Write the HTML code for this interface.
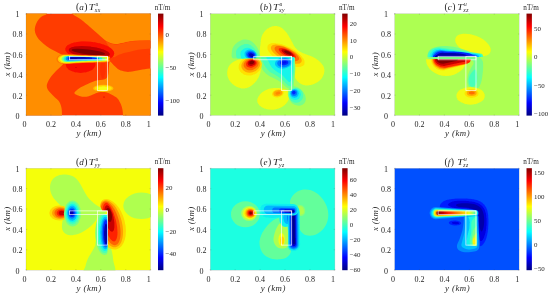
<!DOCTYPE html><html><head><meta charset="utf-8"><title>Tensor components</title>
<style>html,body{margin:0;padding:0;background:#fff;}body{width:550px;height:296px;overflow:hidden;}svg{display:block;font-family:"Liberation Serif","DejaVu Serif",serif;}</style></head><body>
<svg width="550" height="296" viewBox="0 0 550 296">
<defs>
<filter id="b2" x="-20%" y="-20%" width="140%" height="140%"><feGaussianBlur stdDeviation="0.25"/></filter>
<filter id="b3" x="-20%" y="-20%" width="140%" height="140%"><feGaussianBlur stdDeviation="0.35"/></filter>
<filter id="b4" x="-20%" y="-20%" width="140%" height="140%"><feGaussianBlur stdDeviation="0.45"/></filter>
<filter id="b6" x="-20%" y="-20%" width="140%" height="140%"><feGaussianBlur stdDeviation="0.7"/></filter>
<linearGradient id="jet" x1="0" y1="1" x2="0" y2="0"><stop offset="0" stop-color="rgb(0,0,128)"/><stop offset="0.125" stop-color="rgb(0,0,255)"/><stop offset="0.375" stop-color="rgb(0,255,255)"/><stop offset="0.625" stop-color="rgb(255,255,0)"/><stop offset="0.875" stop-color="rgb(255,0,0)"/><stop offset="1" stop-color="rgb(128,0,0)"/></linearGradient>
<clipPath id="cp_a"><rect x="26.00" y="13.60" width="124.70" height="102.00"/></clipPath>
<clipPath id="cp_b"><rect x="210.20" y="13.60" width="124.70" height="102.00"/></clipPath>
<clipPath id="cp_c"><rect x="394.50" y="13.60" width="124.70" height="102.00"/></clipPath>
<clipPath id="cp_d"><rect x="26.00" y="168.20" width="124.70" height="102.00"/></clipPath>
<clipPath id="cp_e"><rect x="210.20" y="168.20" width="124.70" height="102.00"/></clipPath>
<clipPath id="cp_f"><rect x="394.50" y="168.20" width="124.70" height="102.00"/></clipPath>

</defs>
<rect width="550" height="296" fill="#fff"/>
<g clip-path="url(#cp_a)">
<rect x="26.00" y="13.60" width="124.70" height="102.00" fill="rgb(255,60,0)"/>
<path d="M72.00,13.60 C68.50,10.35 43.67,3.93 60.00,0.00 C76.33,-3.93 150.83,-16.75 170.00,-10.00 C189.17,-3.25 178.23,32.08 175.00,40.50 C171.77,48.92 156.43,40.48 150.60,40.50 C144.77,40.52 143.37,40.48 140.00,40.60 C136.63,40.72 133.40,40.80 130.40,41.20 C127.40,41.60 124.53,42.53 122.00,43.00 C119.47,43.47 117.70,44.25 115.20,44.00 C112.70,43.75 109.87,43.17 107.00,41.50 C104.13,39.83 100.83,36.42 98.00,34.00 C95.17,31.58 92.83,29.42 90.00,27.00 C87.17,24.58 84.00,21.73 81.00,19.50 C78.00,17.27 75.50,16.85 72.00,13.60Z" fill="rgb(255,142,0)" />
<path d="M47.00,13.60 C46.00,15.60 42.75,15.43 41.00,17.00 C39.25,18.57 37.53,20.75 36.50,23.00 C35.47,25.25 34.63,28.08 34.80,30.50 C34.97,32.92 36.05,35.30 37.50,37.50 C38.95,39.70 41.42,41.87 43.50,43.70 C45.58,45.53 47.65,47.03 50.00,48.50 C52.35,49.97 55.43,51.33 57.60,52.50 C59.77,53.67 61.60,54.42 63.00,55.50 C64.40,56.58 65.88,57.67 66.00,59.00 C66.12,60.33 65.37,61.50 63.70,63.50 C62.03,65.50 58.18,68.70 56.00,71.00 C53.82,73.30 52.10,75.08 50.60,77.30 C49.10,79.52 47.52,82.35 47.00,84.30 C46.48,86.25 46.90,87.55 47.50,89.00 C48.10,90.45 49.35,91.58 50.60,93.00 C51.85,94.42 53.55,96.03 55.00,97.50 C56.45,98.97 58.22,100.05 59.30,101.80 C60.38,103.55 61.05,105.70 61.50,108.00 C61.95,110.30 61.92,112.77 62.00,115.60 C62.08,118.43 70.67,122.60 62.00,125.00 C53.33,127.40 19.50,140.83 10.00,130.00 C0.50,119.17 5.00,81.67 5.00,60.00 C5.00,38.33 3.00,9.17 10.00,0.00 C17.00,-9.17 40.83,2.73 47.00,5.00 C53.17,7.27 48.00,11.60 47.00,13.60Z" fill="rgb(255,142,0)" />
<path d="M74.40,92.70 C74.82,91.65 77.17,89.78 79.00,88.50 C80.83,87.22 82.65,86.28 85.40,85.00 C88.15,83.72 92.27,81.77 95.50,80.80 C98.73,79.83 102.68,80.17 104.80,79.20 C106.92,78.23 107.50,77.20 108.20,75.00 C108.90,72.80 108.70,68.25 109.00,66.00 C109.30,63.75 109.17,61.58 110.00,61.50 C110.83,61.42 112.47,64.12 114.00,65.50 C115.53,66.88 117.37,68.80 119.20,69.80 C121.03,70.80 123.20,71.17 125.00,71.50 C126.80,71.83 127.50,72.05 130.00,71.80 C132.50,71.55 136.57,70.55 140.00,70.00 C143.43,69.45 145.60,68.83 150.60,68.50 C155.60,68.17 165.93,57.75 170.00,68.00 C174.07,78.25 182.75,119.67 175.00,130.00 C167.25,140.33 132.17,132.40 123.50,130.00 C114.83,127.60 123.17,118.93 123.00,115.60 C122.83,112.27 122.83,111.85 122.50,110.00 C122.17,108.15 121.83,106.42 121.00,104.50 C120.17,102.58 119.03,100.12 117.50,98.50 C115.97,96.88 113.72,95.83 111.80,94.80 C109.88,93.77 108.15,92.72 106.00,92.30 C103.85,91.88 101.07,91.93 98.90,92.30 C96.73,92.67 94.68,93.85 93.00,94.50 C91.32,95.15 90.30,95.82 88.80,96.20 C87.30,96.58 85.42,96.80 84.00,96.80 C82.58,96.80 81.55,96.53 80.30,96.20 C79.05,95.87 77.48,95.38 76.50,94.80 C75.52,94.22 73.98,93.75 74.40,92.70Z" fill="rgb(255,142,0)" />
<path d="M106.00,41.50 C106.17,40.87 108.47,42.72 110.00,43.20 C111.53,43.68 113.20,44.37 115.20,44.40 C117.20,44.43 119.47,43.87 122.00,43.40 C124.53,42.93 127.40,42.00 130.40,41.60 C133.40,41.20 136.23,41.12 140.00,41.00 C143.77,40.88 150.83,39.77 153.00,40.90 C155.17,42.03 155.17,46.38 153.00,47.80 C150.83,49.22 143.35,48.88 140.00,49.40 C136.65,49.92 135.40,50.33 132.90,50.90 C130.40,51.47 127.48,52.08 125.00,52.80 C122.52,53.52 119.87,54.47 118.00,55.20 C116.13,55.93 114.88,57.57 113.80,57.20 C112.72,56.83 112.30,54.70 111.50,53.00 C110.70,51.30 109.92,48.92 109.00,47.00 C108.08,45.08 105.83,42.13 106.00,41.50Z" fill="rgb(255,86,0)" />
<g filter="url(#b3)">
<ellipse cx="103.30" cy="88.30" rx="10.20" ry="3.60" fill="rgb(255,190,0)" />
<ellipse cx="103.30" cy="88.30" rx="8.60" ry="2.80" fill="rgb(255,225,0)" />
<ellipse cx="103.30" cy="88.40" rx="5.20" ry="1.80" fill="rgb(245,255,20)" />
</g>
<g filter="url(#b3)">
<ellipse cx="89.80" cy="51.30" rx="24.60" ry="9.60" fill="rgb(250,10,0)" transform="rotate(6.0 89.80 51.30)" />
<ellipse cx="89.20" cy="52.00" rx="20.60" ry="5.60" fill="rgb(190,0,0)" transform="rotate(6.5 89.20 52.00)" />
<ellipse cx="88.30" cy="51.90" rx="16.80" ry="2.50" fill="rgb(128,0,0)" transform="rotate(6.9 88.30 51.90)" />
<ellipse cx="80.60" cy="64.50" rx="14.80" ry="8.50" fill="rgb(250,16,0)" />
<ellipse cx="102.80" cy="69.00" rx="2.80" ry="9.50" fill="rgb(255,46,0)" />
</g>
<g filter="url(#b4)">
<path d="M56.40,59.20 C56.40,57.89 57.71,56.10 59.34,55.28 C60.97,54.46 62.28,54.33 66.20,54.30 C70.12,54.27 75.92,54.77 82.85,55.10 C89.78,55.43 103.39,55.62 107.80,56.30 C112.21,56.98 109.30,58.23 109.30,59.20 C109.30,60.17 112.21,61.45 107.80,62.10 C103.39,62.75 89.78,62.77 82.85,63.10 C75.92,63.43 70.12,64.10 66.20,64.10 C62.28,64.10 60.97,63.94 59.34,63.12 C57.71,62.30 56.40,60.51 56.40,59.20Z" fill="rgb(255,120,0)" />
<path d="M57.80,59.20 C57.80,58.08 58.92,56.54 60.32,55.84 C61.72,55.14 62.40,55.02 66.20,55.00 C70.01,54.98 76.35,55.40 83.15,55.70 C89.95,56.00 102.78,56.22 107.00,56.80 C111.22,57.38 108.50,58.40 108.50,59.20 C108.50,60.00 111.22,61.05 107.00,61.60 C102.78,62.15 89.95,62.20 83.15,62.50 C76.35,62.80 70.01,63.39 66.20,63.40 C62.40,63.41 61.72,63.26 60.32,62.56 C58.92,61.86 57.80,60.32 57.80,59.20Z" fill="rgb(255,200,0)" />
<path d="M59.50,59.10 C59.50,58.14 60.46,56.82 61.66,56.22 C62.86,55.62 63.06,55.52 66.70,55.50 C70.34,55.48 76.95,55.83 83.50,56.10 C90.05,56.37 102.00,56.60 106.00,57.10 C110.00,57.60 107.50,58.43 107.50,59.10 C107.50,59.77 110.00,60.63 106.00,61.10 C102.00,61.57 90.05,61.63 83.50,61.90 C76.95,62.17 70.34,62.69 66.70,62.70 C63.06,62.71 62.86,62.58 61.66,61.98 C60.46,61.38 59.50,60.06 59.50,59.10Z" fill="rgb(235,255,20)" />
<path d="M61.60,59.00 C61.60,58.17 62.43,57.04 63.46,56.52 C64.49,56.00 64.49,55.91 67.80,55.90 C71.11,55.89 77.35,56.20 83.30,56.45 C89.25,56.70 99.88,56.97 103.50,57.40 C107.12,57.83 105.00,58.47 105.00,59.00 C105.00,59.53 107.12,60.21 103.50,60.60 C99.88,60.99 89.25,61.10 83.30,61.35 C77.35,61.60 71.11,62.08 67.80,62.10 C64.49,62.12 64.49,62.00 63.46,61.48 C62.43,60.96 61.60,59.83 61.60,59.00Z" fill="rgb(130,255,125)" />
<path d="M63.60,58.90 C63.60,58.21 64.29,57.25 65.16,56.82 C66.03,56.39 65.86,56.31 68.80,56.30 C71.74,56.29 77.52,56.53 82.80,56.75 C88.08,56.97 97.30,57.24 100.50,57.60 C103.70,57.96 102.00,58.47 102.00,58.90 C102.00,59.33 103.70,59.87 100.50,60.20 C97.30,60.52 88.08,60.63 82.80,60.85 C77.52,61.07 71.74,61.48 68.80,61.50 C65.86,61.52 66.03,61.41 65.16,60.98 C64.29,60.55 63.60,59.59 63.60,58.90Z" fill="rgb(30,240,225)" />
<path d="M65.60,58.70 C65.60,58.14 66.16,57.37 66.86,57.02 C67.56,56.67 67.23,56.61 69.80,56.60 C72.37,56.59 77.68,56.77 82.30,56.95 C86.92,57.13 94.72,57.41 97.50,57.70 C100.28,57.99 99.00,58.37 99.00,58.70 C99.00,59.03 100.28,59.44 97.50,59.70 C94.72,59.96 86.92,60.07 82.30,60.25 C77.68,60.43 72.37,60.78 69.80,60.80 C67.23,60.82 67.56,60.73 66.86,60.38 C66.16,60.03 65.60,59.26 65.60,58.70Z" fill="rgb(0,150,255)" />
<path d="M67.60,58.40 C67.60,58.00 68.00,57.45 68.50,57.20 C69.00,56.95 68.34,56.92 70.60,56.90 C72.86,56.88 77.98,56.97 82.05,57.10 C86.12,57.23 92.59,57.48 95.00,57.70 C97.41,57.92 96.50,58.17 96.50,58.40 C96.50,58.63 97.41,58.92 95.00,59.10 C92.59,59.28 86.12,59.37 82.05,59.50 C77.98,59.63 72.86,59.88 70.60,59.90 C68.34,59.92 69.00,59.85 68.50,59.60 C68.00,59.35 67.60,58.80 67.60,58.40Z" fill="rgb(0,50,255)" />
<path d="M70.00,58.20 C70.00,57.96 70.24,57.63 70.54,57.48 C70.84,57.33 70.06,57.32 71.80,57.30 C73.54,57.28 77.88,57.27 81.00,57.35 C84.12,57.43 88.67,57.66 90.50,57.80 C92.33,57.94 92.00,58.07 92.00,58.20 C92.00,58.33 92.33,58.49 90.50,58.60 C88.67,58.71 84.12,58.77 81.00,58.85 C77.88,58.93 73.54,59.09 71.80,59.10 C70.06,59.11 70.84,59.07 70.54,58.92 C70.24,58.77 70.00,58.44 70.00,58.20Z" fill="rgb(0,0,170)" />
</g>
<ellipse cx="76.00" cy="67.40" rx="0.70" ry="0.50" fill="rgb(200,0,0)" />
<ellipse cx="104.00" cy="97.00" rx="0.80" ry="0.60" fill="rgb(225,0,0)" />
<rect x="69.60" y="56.30" width="37.90" height="3.50" stroke="#fff" stroke-width="0.7" fill="none" stroke-opacity="0.9"/><rect x="97.40" y="56.30" width="10.10" height="34.20" stroke="#fff" stroke-width="0.7" fill="none" stroke-opacity="0.9"/>
</g>
<rect x="26.00" y="13.60" width="124.70" height="102.00" fill="none" stroke="#555" stroke-opacity="0.35" stroke-width="0.4"/>
<path d="M26.00,115.60 v-1.2 M26.00,13.60 v1.2 M26.00,115.60 h1.2 M150.70,115.60 h-1.2 M50.94,115.60 v-1.2 M50.94,13.60 v1.2 M26.00,95.20 h1.2 M150.70,95.20 h-1.2 M75.88,115.60 v-1.2 M75.88,13.60 v1.2 M26.00,74.80 h1.2 M150.70,74.80 h-1.2 M100.82,115.60 v-1.2 M100.82,13.60 v1.2 M26.00,54.40 h1.2 M150.70,54.40 h-1.2 M125.76,115.60 v-1.2 M125.76,13.60 v1.2 M26.00,34.00 h1.2 M150.70,34.00 h-1.2 M150.70,115.60 v-1.2 M150.70,13.60 v1.2 M26.00,13.60 h1.2 M150.70,13.60 h-1.2" stroke="#444" stroke-opacity="0.45" stroke-width="0.4" fill="none"/>
<rect x="158.00" y="13.60" width="5.4" height="102.00" fill="url(#jet)"/>
<g fill="#262626">
<text x="162.60" y="9.50" font-size="7.20" text-anchor="middle"  >nT/m</text>
<text x="165.50" y="37.00" font-size="6.90" text-anchor="start"  >0</text>
<text x="165.50" y="69.80" font-size="6.90" text-anchor="start"  >−50</text>
<text x="165.50" y="102.60" font-size="6.90" text-anchor="start"  >−100</text>
<text x="24.40" y="126.90" font-size="8.00" text-anchor="middle"  >0</text>
<text x="50.94" y="126.90" font-size="8.00" text-anchor="middle"  >0.2</text>
<text x="75.88" y="126.90" font-size="8.00" text-anchor="middle"  >0.4</text>
<text x="100.82" y="126.90" font-size="8.00" text-anchor="middle"  >0.6</text>
<text x="125.76" y="126.90" font-size="8.00" text-anchor="middle"  >0.8</text>
<text x="148.70" y="126.90" font-size="8.00" text-anchor="middle"  >1</text>
<text x="17.40" y="118.90" font-size="8.00" text-anchor="middle"  >0</text>
<text x="17.40" y="98.50" font-size="8.00" text-anchor="middle"  >0.2</text>
<text x="17.40" y="78.10" font-size="8.00" text-anchor="middle"  >0.4</text>
<text x="17.40" y="57.70" font-size="8.00" text-anchor="middle"  >0.6</text>
<text x="17.40" y="37.30" font-size="8.00" text-anchor="middle"  >0.8</text>
<text x="17.40" y="16.90" font-size="8.00" text-anchor="middle"  >1</text>
<text x="89.05" y="136.40" font-size="8.80" text-anchor="middle" font-style="italic" letter-spacing="0.5">y (km)</text>
<text transform="translate(9.50 64.20) rotate(-90)" font-size="8.8" font-style="italic" text-anchor="middle" letter-spacing="0.4">x (km)</text>
<text x="75.90" y="10.35" font-size="9.7">(<tspan font-size="9.1" font-style="italic" dx="0.2">a</tspan><tspan dx="0.3">)</tspan></text>
<text transform="translate(88.80 10.35) scale(1.16 1)" font-size="9.2" font-style="italic">T</text>
<text x="95.40" y="6.45" font-size="5.4" font-style="italic">u</text>
<text x="94.70" y="12.45" font-size="5.7" font-style="italic" letter-spacing="0.5">xx</text>
</g>
<g clip-path="url(#cp_b)">
<rect x="210.20" y="13.60" width="124.70" height="102.00" fill="rgb(173,255,82)"/>
<defs><clipPath id="b_out"><path d="M205,5 H340 V120 H292.0 V56.4 H205 Z"/></clipPath><clipPath id="b_top"><rect x="205" y="5" width="140" height="53.6"/></clipPath><clipPath id="b_botL"><rect x="205" y="58.8" width="140" height="70"/></clipPath><clipPath id="b_bot"><rect x="205" y="57.3" width="140" height="70"/></clipPath></defs>
<g filter="url(#b3)">
<g clip-path="url(#b_botL)">
<path d="M227.20,72.30 C227.37,70.38 227.87,67.80 229.00,66.00 C230.13,64.20 232.00,62.67 234.00,61.50 C236.00,60.33 238.33,59.58 241.00,59.00 C243.67,58.42 247.17,58.00 250.00,58.00 C252.83,58.00 256.17,58.00 258.00,59.00 C259.83,60.00 260.58,61.83 261.00,64.00 C261.42,66.17 261.17,69.33 260.50,72.00 C259.83,74.67 258.58,77.67 257.00,80.00 C255.42,82.33 253.17,84.58 251.00,86.00 C248.83,87.42 246.33,88.33 244.00,88.50 C241.67,88.67 239.17,88.00 237.00,87.00 C234.83,86.00 232.50,84.08 231.00,82.50 C229.50,80.92 228.63,79.20 228.00,77.50 C227.37,75.80 227.03,74.22 227.20,72.30Z" fill="rgb(240,252,20)" />
</g>
<g clip-path="url(#b_top)">
<path d="M231.80,52.00 C231.97,50.08 232.47,48.17 233.50,46.50 C234.53,44.83 236.25,43.17 238.00,42.00 C239.75,40.83 242.00,39.75 244.00,39.50 C246.00,39.25 248.17,39.67 250.00,40.50 C251.83,41.33 253.58,42.92 255.00,44.50 C256.42,46.08 257.67,47.92 258.50,50.00 C259.33,52.08 260.58,55.17 260.00,57.00 C259.42,58.83 258.33,60.33 255.00,61.00 C251.67,61.67 243.75,61.50 240.00,61.00 C236.25,60.50 233.87,59.50 232.50,58.00 C231.13,56.50 231.63,53.92 231.80,52.00Z" fill="rgb(120,255,135)" />
<path d="M236.00,52.00 C236.08,50.08 237.25,48.75 238.50,47.50 C239.75,46.25 241.75,45.00 243.50,44.50 C245.25,44.00 247.25,43.92 249.00,44.50 C250.75,45.08 252.58,46.58 254.00,48.00 C255.42,49.42 256.83,51.33 257.50,53.00 C258.17,54.67 259.58,56.67 258.00,58.00 C256.42,59.33 251.33,60.83 248.00,61.00 C244.67,61.17 240.00,60.50 238.00,59.00 C236.00,57.50 235.92,53.92 236.00,52.00Z" fill="rgb(70,255,185)" />
<path d="M240.50,53.00 C240.67,51.42 241.83,50.37 243.00,49.50 C244.17,48.63 246.00,47.80 247.50,47.80 C249.00,47.80 250.67,48.55 252.00,49.50 C253.33,50.45 254.75,52.08 255.50,53.50 C256.25,54.92 257.75,56.75 256.50,58.00 C255.25,59.25 250.42,60.83 248.00,61.00 C245.58,61.17 243.25,60.33 242.00,59.00 C240.75,57.67 240.33,54.58 240.50,53.00Z" fill="rgb(20,245,235)" />
<ellipse cx="250.60" cy="54.60" rx="6.20" ry="4.90" fill="rgb(0,190,255)" transform="rotate(15.0 250.60 54.60)" />
<ellipse cx="250.90" cy="54.80" rx="5.00" ry="3.90" fill="rgb(0,120,255)" transform="rotate(15.0 250.90 54.80)" />
<ellipse cx="251.20" cy="55.00" rx="3.80" ry="2.90" fill="rgb(0,40,255)" transform="rotate(15.0 251.20 55.00)" />
<ellipse cx="251.50" cy="55.20" rx="2.50" ry="1.80" fill="rgb(0,0,180)" transform="rotate(15.0 251.50 55.20)" />
</g>
<g clip-path="url(#b_out)">
<path d="M260.50,44.00 C260.75,41.83 260.75,39.17 261.50,37.00 C262.25,34.83 263.58,32.62 265.00,31.00 C266.42,29.38 268.25,28.13 270.00,27.30 C271.75,26.47 273.67,25.97 275.50,26.00 C277.33,26.03 279.25,26.50 281.00,27.50 C282.75,28.50 284.42,30.08 286.00,32.00 C287.58,33.92 289.08,36.60 290.50,39.00 C291.92,41.40 293.08,44.40 294.50,46.40 C295.92,48.40 297.42,49.82 299.00,51.00 C300.58,52.18 301.83,52.58 304.00,53.50 C306.17,54.42 309.50,55.25 312.00,56.50 C314.50,57.75 317.08,59.33 319.00,61.00 C320.92,62.67 322.62,64.67 323.50,66.50 C324.38,68.33 324.55,70.08 324.30,72.00 C324.05,73.92 323.22,76.25 322.00,78.00 C320.78,79.75 318.83,81.33 317.00,82.50 C315.17,83.67 313.00,84.53 311.00,85.00 C309.00,85.47 306.92,85.63 305.00,85.30 C303.08,84.97 301.08,84.13 299.50,83.00 C297.92,81.87 296.50,80.33 295.50,78.50 C294.50,76.67 294.00,74.42 293.50,72.00 C293.00,69.58 292.92,66.50 292.50,64.00 C292.08,61.50 293.08,58.17 291.00,57.00 C288.92,55.83 284.83,57.00 280.00,57.00 C275.17,57.00 265.33,58.17 262.00,57.00 C258.67,55.83 260.25,52.17 260.00,50.00 C259.75,47.83 260.25,46.17 260.50,44.00Z" fill="rgb(240,252,20)" />
<ellipse cx="286.00" cy="55.00" rx="20.50" ry="8.40" fill="rgb(255,225,0)" transform="rotate(27.0 286.00 55.00)" />
<ellipse cx="286.30" cy="54.20" rx="17.00" ry="6.50" fill="rgb(255,170,0)" transform="rotate(27.0 286.30 54.20)" />
<ellipse cx="286.80" cy="53.60" rx="13.50" ry="5.00" fill="rgb(255,110,0)" transform="rotate(27.0 286.80 53.60)" />
<ellipse cx="287.30" cy="53.20" rx="9.60" ry="3.40" fill="rgb(255,40,0)" transform="rotate(27.0 287.30 53.20)" />
<ellipse cx="287.60" cy="52.90" rx="6.80" ry="2.30" fill="rgb(200,0,0)" transform="rotate(27.0 287.60 52.90)" />
<ellipse cx="287.80" cy="52.70" rx="4.00" ry="1.30" fill="rgb(130,0,0)" transform="rotate(27.0 287.80 52.70)" />
</g>
<g clip-path="url(#b_bot)">
<path d="M257.50,56.00 C260.33,55.17 269.08,55.00 275.00,55.00 C280.92,55.00 289.67,54.67 293.00,56.00 C296.33,57.33 294.62,60.67 295.00,63.00 C295.38,65.33 295.37,67.67 295.30,70.00 C295.23,72.33 294.85,74.67 294.60,77.00 C294.35,79.33 293.98,82.17 293.80,84.00 C293.62,85.83 294.30,87.25 293.50,88.00 C292.70,88.75 290.33,88.75 289.00,88.50 C287.67,88.25 286.83,87.50 285.50,86.50 C284.17,85.50 282.75,83.78 281.00,82.50 C279.25,81.22 277.08,79.95 275.00,78.80 C272.92,77.65 270.42,76.90 268.50,75.60 C266.58,74.30 264.87,72.77 263.50,71.00 C262.13,69.23 261.22,66.83 260.30,65.00 C259.38,63.17 258.47,61.50 258.00,60.00 C257.53,58.50 254.67,56.83 257.50,56.00Z" fill="rgb(120,255,135)" />
<path d="M262.00,56.00 C264.33,54.83 271.92,55.00 277.00,55.00 C282.08,55.00 289.67,54.67 292.50,56.00 C295.33,57.33 293.75,60.50 294.00,63.00 C294.25,65.50 294.17,68.33 294.00,71.00 C293.83,73.67 293.33,76.58 293.00,79.00 C292.67,81.42 292.67,84.33 292.00,85.50 C291.33,86.67 290.00,86.33 289.00,86.00 C288.00,85.67 287.25,84.67 286.00,83.50 C284.75,82.33 283.25,80.42 281.50,79.00 C279.75,77.58 277.50,76.25 275.50,75.00 C273.50,73.75 271.17,72.83 269.50,71.50 C267.83,70.17 266.58,68.58 265.50,67.00 C264.42,65.42 263.58,63.83 263.00,62.00 C262.42,60.17 259.67,57.17 262.00,56.00Z" fill="rgb(70,255,185)" />
<path d="M268.00,56.00 C271.83,55.00 287.83,54.67 292.00,56.00 C296.17,57.33 292.92,61.33 293.00,64.00 C293.08,66.67 292.75,69.50 292.50,72.00 C292.25,74.50 292.00,77.33 291.50,79.00 C291.00,80.67 290.42,82.00 289.50,82.00 C288.58,82.00 287.33,80.25 286.00,79.00 C284.67,77.75 283.17,75.83 281.50,74.50 C279.83,73.17 277.67,72.25 276.00,71.00 C274.33,69.75 272.67,68.50 271.50,67.00 C270.33,65.50 269.58,63.83 269.00,62.00 C268.42,60.17 264.17,57.00 268.00,56.00Z" fill="rgb(20,245,235)" />
<ellipse cx="283.50" cy="63.00" rx="8.60" ry="5.60" fill="rgb(0,190,255)" transform="rotate(-8.0 283.50 63.00)" />
<ellipse cx="283.90" cy="62.80" rx="6.80" ry="4.40" fill="rgb(0,120,255)" transform="rotate(-8.0 283.90 62.80)" />
<ellipse cx="284.20" cy="62.60" rx="4.20" ry="2.60" fill="rgb(0,40,255)" transform="rotate(-8.0 284.20 62.60)" />
<ellipse cx="284.50" cy="62.50" rx="2.00" ry="1.10" fill="rgb(0,10,240)" transform="rotate(-8.0 284.50 62.50)" />
</g>
<g clip-path="url(#b_botL)">
<ellipse cx="250.30" cy="65.80" rx="11.80" ry="9.40" fill="rgb(255,225,0)" transform="rotate(-15.0 250.30 65.80)" />
<ellipse cx="250.80" cy="65.00" rx="9.60" ry="7.50" fill="rgb(255,170,0)" transform="rotate(-15.0 250.80 65.00)" />
<ellipse cx="251.10" cy="64.30" rx="7.60" ry="5.80" fill="rgb(255,110,0)" transform="rotate(-15.0 251.10 64.30)" />
<ellipse cx="251.40" cy="63.60" rx="5.50" ry="4.00" fill="rgb(255,40,0)" transform="rotate(-15.0 251.40 63.60)" />
<ellipse cx="251.60" cy="63.00" rx="4.00" ry="2.80" fill="rgb(200,0,0)" transform="rotate(-15.0 251.60 63.00)" />
<ellipse cx="251.70" cy="62.50" rx="2.50" ry="1.70" fill="rgb(130,0,0)" transform="rotate(-15.0 251.70 62.50)" />
</g>
<path d="M257.20,101.00 C257.03,99.12 258.20,96.75 259.50,95.00 C260.80,93.25 262.92,91.62 265.00,90.50 C267.08,89.38 269.67,88.72 272.00,88.30 C274.33,87.88 276.83,87.83 279.00,88.00 C281.17,88.17 283.33,88.63 285.00,89.30 C286.67,89.97 288.25,90.72 289.00,92.00 C289.75,93.28 289.83,95.25 289.50,97.00 C289.17,98.75 288.25,100.83 287.00,102.50 C285.75,104.17 284.00,105.83 282.00,107.00 C280.00,108.17 277.50,109.12 275.00,109.50 C272.50,109.88 269.42,109.83 267.00,109.30 C264.58,108.77 262.13,107.68 260.50,106.30 C258.87,104.92 257.37,102.88 257.20,101.00Z" fill="rgb(240,252,20)" />
<ellipse cx="277.80" cy="93.40" rx="6.00" ry="3.90" fill="rgb(255,225,0)" transform="rotate(-12.0 277.80 93.40)" />
<ellipse cx="277.90" cy="93.20" rx="4.60" ry="2.90" fill="rgb(255,170,0)" transform="rotate(-12.0 277.90 93.20)" />
<ellipse cx="278.00" cy="93.10" rx="2.60" ry="1.50" fill="rgb(255,135,0)" transform="rotate(-12.0 278.00 93.10)" />
<path d="M288.00,92.00 C288.25,90.75 288.67,88.95 289.50,88.00 C290.33,87.05 291.58,86.38 293.00,86.30 C294.42,86.22 296.42,86.72 298.00,87.50 C299.58,88.28 301.28,89.58 302.50,91.00 C303.72,92.42 304.80,94.33 305.30,96.00 C305.80,97.67 305.97,99.53 305.50,101.00 C305.03,102.47 303.83,104.03 302.50,104.80 C301.17,105.57 299.17,105.82 297.50,105.60 C295.83,105.38 293.83,104.52 292.50,103.50 C291.17,102.48 290.25,100.83 289.50,99.50 C288.75,98.17 288.25,96.75 288.00,95.50 C287.75,94.25 287.75,93.25 288.00,92.00Z" fill="rgb(120,255,135)" />
<ellipse cx="296.00" cy="95.30" rx="7.20" ry="7.40" fill="rgb(70,255,185)" transform="rotate(-30.0 296.00 95.30)" />
<ellipse cx="295.20" cy="94.30" rx="5.60" ry="5.60" fill="rgb(20,245,235)" />
<ellipse cx="294.50" cy="93.50" rx="4.20" ry="4.20" fill="rgb(0,190,255)" />
<ellipse cx="294.10" cy="93.00" rx="3.00" ry="3.00" fill="rgb(0,120,255)" />
<ellipse cx="293.80" cy="92.60" rx="1.80" ry="1.80" fill="rgb(0,40,255)" />
</g>
<rect x="253.80" y="56.30" width="37.90" height="3.50" stroke="#fff" stroke-width="0.7" fill="none" stroke-opacity="0.9"/><rect x="281.60" y="56.30" width="10.10" height="34.20" stroke="#fff" stroke-width="0.7" fill="none" stroke-opacity="0.9"/>
</g>
<rect x="210.20" y="13.60" width="124.70" height="102.00" fill="none" stroke="#555" stroke-opacity="0.35" stroke-width="0.4"/>
<path d="M210.20,115.60 v-1.2 M210.20,13.60 v1.2 M210.20,115.60 h1.2 M334.90,115.60 h-1.2 M235.14,115.60 v-1.2 M235.14,13.60 v1.2 M210.20,95.20 h1.2 M334.90,95.20 h-1.2 M260.08,115.60 v-1.2 M260.08,13.60 v1.2 M210.20,74.80 h1.2 M334.90,74.80 h-1.2 M285.02,115.60 v-1.2 M285.02,13.60 v1.2 M210.20,54.40 h1.2 M334.90,54.40 h-1.2 M309.96,115.60 v-1.2 M309.96,13.60 v1.2 M210.20,34.00 h1.2 M334.90,34.00 h-1.2 M334.90,115.60 v-1.2 M334.90,13.60 v1.2 M210.20,13.60 h1.2 M334.90,13.60 h-1.2" stroke="#444" stroke-opacity="0.45" stroke-width="0.4" fill="none"/>
<rect x="342.20" y="13.60" width="5.4" height="102.00" fill="url(#jet)"/>
<g fill="#262626">
<text x="346.80" y="9.50" font-size="7.20" text-anchor="middle"  >nT/m</text>
<text x="349.70" y="26.00" font-size="6.90" text-anchor="start"  >20</text>
<text x="349.70" y="42.70" font-size="6.90" text-anchor="start"  >10</text>
<text x="349.70" y="59.40" font-size="6.90" text-anchor="start"  >0</text>
<text x="349.70" y="76.20" font-size="6.90" text-anchor="start"  >−10</text>
<text x="349.70" y="92.90" font-size="6.90" text-anchor="start"  >−20</text>
<text x="349.70" y="109.50" font-size="6.90" text-anchor="start"  >−30</text>
<text x="208.60" y="126.90" font-size="8.00" text-anchor="middle"  >0</text>
<text x="235.14" y="126.90" font-size="8.00" text-anchor="middle"  >0.2</text>
<text x="260.08" y="126.90" font-size="8.00" text-anchor="middle"  >0.4</text>
<text x="285.02" y="126.90" font-size="8.00" text-anchor="middle"  >0.6</text>
<text x="309.96" y="126.90" font-size="8.00" text-anchor="middle"  >0.8</text>
<text x="332.90" y="126.90" font-size="8.00" text-anchor="middle"  >1</text>
<text x="201.60" y="118.90" font-size="8.00" text-anchor="middle"  >0</text>
<text x="201.60" y="98.50" font-size="8.00" text-anchor="middle"  >0.2</text>
<text x="201.60" y="78.10" font-size="8.00" text-anchor="middle"  >0.4</text>
<text x="201.60" y="57.70" font-size="8.00" text-anchor="middle"  >0.6</text>
<text x="201.60" y="37.30" font-size="8.00" text-anchor="middle"  >0.8</text>
<text x="201.60" y="16.90" font-size="8.00" text-anchor="middle"  >1</text>
<text x="273.25" y="136.40" font-size="8.80" text-anchor="middle" font-style="italic" letter-spacing="0.5">y (km)</text>
<text transform="translate(193.70 64.20) rotate(-90)" font-size="8.8" font-style="italic" text-anchor="middle" letter-spacing="0.4">x (km)</text>
<text x="260.10" y="10.35" font-size="9.7">(<tspan font-size="9.1" font-style="italic" dx="0.2">b</tspan><tspan dx="0.3">)</tspan></text>
<text transform="translate(273.00 10.35) scale(1.16 1)" font-size="9.2" font-style="italic">T</text>
<text x="279.60" y="6.45" font-size="5.4" font-style="italic">u</text>
<text x="278.90" y="12.45" font-size="5.7" font-style="italic" letter-spacing="0.5">xy</text>
</g>
<g clip-path="url(#cp_c)">
<rect x="394.50" y="13.60" width="124.70" height="102.00" fill="rgb(173,255,82)"/>
<defs><clipPath id="c_top"><rect x="390" y="5" width="140" height="51.9"/></clipPath><clipPath id="c_bot"><rect x="390" y="59.3" width="140" height="70"/></clipPath></defs>
<g filter="url(#b3)">
<ellipse cx="473.00" cy="45.00" rx="18.80" ry="9.60" fill="rgb(240,252,20)" transform="rotate(22.0 473.00 45.00)" />
<path d="M427.60,55.50 C427.43,54.17 428.10,52.25 429.00,51.00 C429.90,49.75 431.17,48.78 433.00,48.00 C434.83,47.22 437.33,46.58 440.00,46.30 C442.67,46.02 446.00,46.05 449.00,46.30 C452.00,46.55 455.17,47.13 458.00,47.80 C460.83,48.47 463.50,49.35 466.00,50.30 C468.50,51.25 470.83,52.38 473.00,53.50 C475.17,54.62 477.40,55.75 479.00,57.00 C480.60,58.25 481.90,59.33 482.60,61.00 C483.30,62.67 483.20,64.83 483.20,67.00 C483.20,69.17 482.88,71.67 482.60,74.00 C482.32,76.33 482.10,78.83 481.50,81.00 C480.90,83.17 480.17,85.62 479.00,87.00 C477.83,88.38 476.08,89.22 474.50,89.30 C472.92,89.38 470.70,88.72 469.50,87.50 C468.30,86.28 467.55,84.00 467.30,82.00 C467.05,80.00 467.47,77.67 468.00,75.50 C468.53,73.33 469.58,71.00 470.50,69.00 C471.42,67.00 473.25,64.92 473.50,63.50 C473.75,62.08 473.42,61.17 472.00,60.50 C470.58,59.83 469.50,59.58 465.00,59.50 C460.50,59.42 450.83,60.08 445.00,60.00 C439.17,59.92 432.90,59.75 430.00,59.00 C427.10,58.25 427.77,56.83 427.60,55.50Z" fill="rgb(120,255,135)" />
<g clip-path="url(#c_top)">
<path d="M438.41,47.20 L480.00,53.60 A3.00,3.00 0 0 1 480.00,59.60 L438.41,66.00 A10.81,9.40 0 0 1 438.41,47.20 Z" fill="rgb(70,255,185)"/>
<path d="M438.80,48.60 L478.40,54.00 A2.60,2.60 0 0 1 478.40,59.20 L438.80,64.60 A9.20,8.00 0 0 1 438.80,48.60 Z" fill="rgb(20,245,235)"/>
<path d="M439.68,49.70 L476.80,54.40 A2.20,2.20 0 0 1 476.80,58.80 L439.68,63.50 A8.28,6.90 0 0 1 439.68,49.70 Z" fill="rgb(0,190,255)"/>
<path d="M440.83,50.50 L475.40,54.80 A1.80,1.80 0 0 1 475.40,58.40 L440.83,62.70 A7.93,6.10 0 0 1 440.83,50.50 Z" fill="rgb(0,120,255)"/>
<path d="M441.86,51.20 L473.80,55.20 A1.40,1.40 0 0 1 473.80,58.00 L441.86,62.00 A7.56,5.40 0 0 1 441.86,51.20 Z" fill="rgb(0,40,255)"/>
<ellipse cx="453.50" cy="56.60" rx="20.50" ry="5.20" fill="rgb(0,40,255)" />
<path d="M442.58,52.70 L469.70,55.70 A0.80,0.80 0 0 1 469.70,57.30 L442.58,60.30 A6.08,3.80 0 0 1 442.58,52.70 Z" fill="rgb(0,0,170)"/>
<ellipse cx="451.50" cy="56.50" rx="16.50" ry="3.50" fill="rgb(0,0,170)" />
</g>
<path d="M475.50,69.50 C476.48,70.00 477.02,73.75 477.20,76.00 C477.38,78.25 477.27,81.20 476.60,83.00 C475.93,84.80 474.40,86.50 473.20,86.80 C472.00,87.10 470.13,86.18 469.40,84.80 C468.67,83.42 468.48,80.47 468.80,78.50 C469.12,76.53 470.18,74.50 471.30,73.00 C472.42,71.50 474.52,69.00 475.50,69.50Z" fill="rgb(70,255,185)" />
<g clip-path="url(#c_bot)">
<ellipse cx="446.20" cy="59.50" rx="20.20" ry="16.40" fill="rgb(240,252,20)" />
<path d="M443.32,48.10 L462.80,53.30 A6.00,6.00 0 0 1 462.80,65.30 L443.32,70.50 A12.32,11.20 0 0 1 443.32,48.10 Z" fill="rgb(255,225,0)"/>
<path d="M443.62,49.20 L464.20,54.00 A5.30,5.30 0 0 1 464.20,64.60 L443.62,69.40 A11.61,10.10 0 0 1 443.62,49.20 Z" fill="rgb(255,170,0)"/>
<path d="M443.94,50.10 L465.50,54.60 A4.70,4.70 0 0 1 465.50,64.00 L443.94,68.50 A11.04,9.20 0 0 1 443.94,50.10 Z" fill="rgb(255,110,0)"/>
<path d="M444.75,50.80 L466.70,55.20 A4.10,4.10 0 0 1 466.70,63.40 L444.75,67.80 A11.05,8.50 0 0 1 444.75,50.80 Z" fill="rgb(255,40,0)"/>
<path d="M444.04,52.70 L463.20,56.50 A2.80,2.80 0 0 1 463.20,62.10 L444.04,65.90 A9.24,6.60 0 0 1 444.04,52.70 Z" fill="rgb(200,0,0)"/>
<path d="M443.34,54.90 L456.20,57.50 A1.80,1.80 0 0 1 456.20,61.10 L443.34,63.70 A7.04,4.40 0 0 1 443.34,54.90 Z" fill="rgb(130,0,0)"/>
</g>
<ellipse cx="470.60" cy="95.80" rx="14.20" ry="8.90" fill="rgb(240,252,20)" />
<ellipse cx="471.60" cy="93.40" rx="7.00" ry="4.30" fill="rgb(255,225,0)" />
<ellipse cx="471.70" cy="93.00" rx="5.00" ry="2.90" fill="rgb(255,170,0)" />
<ellipse cx="471.80" cy="92.80" rx="3.00" ry="1.60" fill="rgb(255,110,0)" />
</g>
<rect x="438.10" y="56.30" width="37.90" height="3.50" stroke="#fff" stroke-width="0.7" fill="none" stroke-opacity="0.9"/><rect x="465.90" y="56.30" width="10.10" height="34.20" stroke="#fff" stroke-width="0.7" fill="none" stroke-opacity="0.9"/>
</g>
<rect x="394.50" y="13.60" width="124.70" height="102.00" fill="none" stroke="#555" stroke-opacity="0.35" stroke-width="0.4"/>
<path d="M394.50,115.60 v-1.2 M394.50,13.60 v1.2 M394.50,115.60 h1.2 M519.20,115.60 h-1.2 M419.44,115.60 v-1.2 M419.44,13.60 v1.2 M394.50,95.20 h1.2 M519.20,95.20 h-1.2 M444.38,115.60 v-1.2 M444.38,13.60 v1.2 M394.50,74.80 h1.2 M519.20,74.80 h-1.2 M469.32,115.60 v-1.2 M469.32,13.60 v1.2 M394.50,54.40 h1.2 M519.20,54.40 h-1.2 M494.26,115.60 v-1.2 M494.26,13.60 v1.2 M394.50,34.00 h1.2 M519.20,34.00 h-1.2 M519.20,115.60 v-1.2 M519.20,13.60 v1.2 M394.50,13.60 h1.2 M519.20,13.60 h-1.2" stroke="#444" stroke-opacity="0.45" stroke-width="0.4" fill="none"/>
<rect x="526.50" y="13.60" width="5.4" height="102.00" fill="url(#jet)"/>
<g fill="#262626">
<text x="531.10" y="9.50" font-size="7.20" text-anchor="middle"  >nT/m</text>
<text x="534.00" y="30.90" font-size="6.90" text-anchor="start"  >50</text>
<text x="534.00" y="59.20" font-size="6.90" text-anchor="start"  >0</text>
<text x="534.00" y="87.60" font-size="6.90" text-anchor="start"  >−50</text>
<text x="534.00" y="116.00" font-size="6.90" text-anchor="start"  >−100</text>
<text x="392.90" y="126.90" font-size="8.00" text-anchor="middle"  >0</text>
<text x="419.44" y="126.90" font-size="8.00" text-anchor="middle"  >0.2</text>
<text x="444.38" y="126.90" font-size="8.00" text-anchor="middle"  >0.4</text>
<text x="469.32" y="126.90" font-size="8.00" text-anchor="middle"  >0.6</text>
<text x="494.26" y="126.90" font-size="8.00" text-anchor="middle"  >0.8</text>
<text x="517.20" y="126.90" font-size="8.00" text-anchor="middle"  >1</text>
<text x="385.90" y="118.90" font-size="8.00" text-anchor="middle"  >0</text>
<text x="385.90" y="98.50" font-size="8.00" text-anchor="middle"  >0.2</text>
<text x="385.90" y="78.10" font-size="8.00" text-anchor="middle"  >0.4</text>
<text x="385.90" y="57.70" font-size="8.00" text-anchor="middle"  >0.6</text>
<text x="385.90" y="37.30" font-size="8.00" text-anchor="middle"  >0.8</text>
<text x="385.90" y="16.90" font-size="8.00" text-anchor="middle"  >1</text>
<text x="457.55" y="136.40" font-size="8.80" text-anchor="middle" font-style="italic" letter-spacing="0.5">y (km)</text>
<text transform="translate(378.00 64.20) rotate(-90)" font-size="8.8" font-style="italic" text-anchor="middle" letter-spacing="0.4">x (km)</text>
<text x="444.40" y="10.35" font-size="9.7">(<tspan font-size="9.1" font-style="italic" dx="0.2">c</tspan><tspan dx="0.3">)</tspan></text>
<text transform="translate(457.30 10.35) scale(1.16 1)" font-size="9.2" font-style="italic">T</text>
<text x="463.90" y="6.45" font-size="5.4" font-style="italic">u</text>
<text x="463.20" y="12.45" font-size="5.7" font-style="italic" letter-spacing="0.5">xz</text>
</g>
<g clip-path="url(#cp_d)">
<rect x="26.00" y="168.20" width="124.70" height="102.00" fill="rgb(245,255,10)"/>
<defs><clipPath id="d_out"><path d="M160,160 V280 H107.5 V211 H102.6 L100.3,206.5 L100.8,202 L104,197.5 L108,160 Z"/></clipPath><clipPath id="d_in"><rect x="60" y="214.4" width="47.4" height="70"/></clipPath></defs>
<g filter="url(#b3)">
<path d="M50.00,187.00 C50.12,185.08 50.50,182.75 51.50,181.00 C52.50,179.25 53.98,177.57 56.00,176.50 C58.02,175.43 61.27,174.80 63.60,174.60 C65.93,174.40 68.02,174.73 70.00,175.30 C71.98,175.87 73.83,176.63 75.50,178.00 C77.17,179.37 78.67,181.50 80.00,183.50 C81.33,185.50 82.28,187.85 83.50,190.00 C84.72,192.15 85.88,194.48 87.30,196.40 C88.72,198.32 90.38,199.98 92.00,201.50 C93.62,203.02 95.33,204.33 97.00,205.50 C98.67,206.67 100.50,207.50 102.00,208.50 C103.50,209.50 105.67,210.50 106.00,211.50 C106.33,212.50 105.33,213.58 104.00,214.50 C102.67,215.42 99.42,215.92 98.00,217.00 C96.58,218.08 96.67,219.50 95.50,221.00 C94.33,222.50 92.75,224.42 91.00,226.00 C89.25,227.58 87.17,229.17 85.00,230.50 C82.83,231.83 80.50,233.22 78.00,234.00 C75.50,234.78 72.25,235.37 70.00,235.20 C67.75,235.03 65.83,234.20 64.50,233.00 C63.17,231.80 62.33,230.00 62.00,228.00 C61.67,226.00 62.17,223.33 62.50,221.00 C62.83,218.67 64.08,216.25 64.00,214.00 C63.92,211.75 63.00,209.33 62.00,207.50 C61.00,205.67 59.42,204.58 58.00,203.00 C56.58,201.42 54.70,199.75 53.50,198.00 C52.30,196.25 51.38,194.33 50.80,192.50 C50.22,190.67 49.88,188.92 50.00,187.00Z" fill="rgb(175,255,80)" />
<path d="M97.00,240.00 C99.17,239.00 105.58,238.33 108.00,240.00 C110.42,241.67 110.63,246.67 111.50,250.00 C112.37,253.33 112.87,255.83 113.20,260.00 C113.53,264.17 118.20,272.50 113.50,275.00 C108.80,277.50 89.67,276.50 85.00,275.00 C80.33,273.50 85.00,268.75 85.50,266.00 C86.00,263.25 86.92,260.92 88.00,258.50 C89.08,256.08 90.83,253.58 92.00,251.50 C93.17,249.42 94.17,247.92 95.00,246.00 C95.83,244.08 94.83,241.00 97.00,240.00Z" fill="rgb(175,255,80)" />
<ellipse cx="141.50" cy="205.80" rx="18.20" ry="13.20" fill="rgb(175,255,80)" />
<ellipse cx="59.50" cy="213.00" rx="10.20" ry="7.40" fill="rgb(255,215,0)" />
<ellipse cx="60.20" cy="213.00" rx="8.20" ry="6.00" fill="rgb(255,160,0)" />
<ellipse cx="60.80" cy="213.00" rx="6.40" ry="4.80" fill="rgb(255,100,0)" />
<ellipse cx="61.30" cy="213.00" rx="4.60" ry="3.60" fill="rgb(255,35,0)" />
<ellipse cx="61.60" cy="213.00" rx="2.90" ry="2.30" fill="rgb(200,0,0)" />
<ellipse cx="72.50" cy="213.50" rx="8.60" ry="13.00" fill="rgb(120,255,135)" />
<ellipse cx="72.40" cy="213.30" rx="7.30" ry="11.20" fill="rgb(70,255,185)" />
<ellipse cx="72.30" cy="213.20" rx="6.10" ry="9.40" fill="rgb(20,245,235)" />
<ellipse cx="72.10" cy="213.10" rx="5.00" ry="7.60" fill="rgb(0,190,255)" />
<ellipse cx="72.00" cy="213.00" rx="3.90" ry="5.80" fill="rgb(0,120,255)" />
<ellipse cx="71.90" cy="213.00" rx="2.90" ry="4.10" fill="rgb(0,40,255)" />
<ellipse cx="71.80" cy="213.00" rx="1.80" ry="2.40" fill="rgb(0,0,170)" />
<g clip-path="url(#d_out)">
<ellipse cx="110.50" cy="224.30" rx="14.50" ry="25.70" fill="rgb(255,215,0)" transform="rotate(-14.0 110.50 224.30)" />
<ellipse cx="110.40" cy="223.80" rx="11.60" ry="24.00" fill="rgb(255,160,0)" transform="rotate(-14.0 110.40 223.80)" />
<ellipse cx="110.30" cy="223.30" rx="9.00" ry="22.40" fill="rgb(255,100,0)" transform="rotate(-14.0 110.30 223.30)" />
<ellipse cx="110.00" cy="222.20" rx="6.20" ry="19.80" fill="rgb(255,35,0)" transform="rotate(-13.0 110.00 222.20)" />
<ellipse cx="109.40" cy="218.50" rx="4.30" ry="13.50" fill="rgb(200,0,0)" transform="rotate(-12.0 109.40 218.50)" />
<ellipse cx="108.90" cy="215.00" rx="2.90" ry="7.00" fill="rgb(130,0,0)" transform="rotate(-10.0 108.90 215.00)" />
</g>
<g clip-path="url(#d_in)">
<ellipse cx="104.50" cy="233.00" rx="9.20" ry="22.00" fill="rgb(120,255,135)" />
<ellipse cx="104.80" cy="233.00" rx="7.60" ry="20.00" fill="rgb(70,255,185)" />
<ellipse cx="105.10" cy="233.00" rx="6.30" ry="18.00" fill="rgb(20,245,235)" />
<ellipse cx="105.40" cy="233.00" rx="5.10" ry="16.20" fill="rgb(0,190,255)" />
<ellipse cx="105.60" cy="233.00" rx="4.00" ry="14.60" fill="rgb(0,120,255)" />
<ellipse cx="105.80" cy="233.00" rx="3.00" ry="13.00" fill="rgb(0,40,255)" />
<ellipse cx="106.00" cy="234.00" rx="1.90" ry="10.50" fill="rgb(0,0,170)" />
</g>
</g>
<rect x="69.60" y="210.90" width="37.90" height="3.50" stroke="#fff" stroke-width="0.7" fill="none" stroke-opacity="0.9"/><rect x="97.40" y="210.90" width="10.10" height="34.20" stroke="#fff" stroke-width="0.7" fill="none" stroke-opacity="0.9"/>
</g>
<rect x="26.00" y="168.20" width="124.70" height="102.00" fill="none" stroke="#555" stroke-opacity="0.35" stroke-width="0.4"/>
<path d="M26.00,270.20 v-1.2 M26.00,168.20 v1.2 M26.00,270.20 h1.2 M150.70,270.20 h-1.2 M50.94,270.20 v-1.2 M50.94,168.20 v1.2 M26.00,249.80 h1.2 M150.70,249.80 h-1.2 M75.88,270.20 v-1.2 M75.88,168.20 v1.2 M26.00,229.40 h1.2 M150.70,229.40 h-1.2 M100.82,270.20 v-1.2 M100.82,168.20 v1.2 M26.00,209.00 h1.2 M150.70,209.00 h-1.2 M125.76,270.20 v-1.2 M125.76,168.20 v1.2 M26.00,188.60 h1.2 M150.70,188.60 h-1.2 M150.70,270.20 v-1.2 M150.70,168.20 v1.2 M26.00,168.20 h1.2 M150.70,168.20 h-1.2" stroke="#444" stroke-opacity="0.45" stroke-width="0.4" fill="none"/>
<rect x="158.00" y="168.20" width="5.4" height="102.00" fill="url(#jet)"/>
<g fill="#262626">
<text x="162.60" y="164.10" font-size="7.20" text-anchor="middle"  >nT/m</text>
<text x="165.50" y="189.60" font-size="6.90" text-anchor="start"  >20</text>
<text x="165.50" y="211.80" font-size="6.90" text-anchor="start"  >0</text>
<text x="165.50" y="234.00" font-size="6.90" text-anchor="start"  >−20</text>
<text x="165.50" y="256.20" font-size="6.90" text-anchor="start"  >−40</text>
<text x="24.40" y="281.50" font-size="8.00" text-anchor="middle"  >0</text>
<text x="50.94" y="281.50" font-size="8.00" text-anchor="middle"  >0.2</text>
<text x="75.88" y="281.50" font-size="8.00" text-anchor="middle"  >0.4</text>
<text x="100.82" y="281.50" font-size="8.00" text-anchor="middle"  >0.6</text>
<text x="125.76" y="281.50" font-size="8.00" text-anchor="middle"  >0.8</text>
<text x="148.70" y="281.50" font-size="8.00" text-anchor="middle"  >1</text>
<text x="17.40" y="273.50" font-size="8.00" text-anchor="middle"  >0</text>
<text x="17.40" y="253.10" font-size="8.00" text-anchor="middle"  >0.2</text>
<text x="17.40" y="232.70" font-size="8.00" text-anchor="middle"  >0.4</text>
<text x="17.40" y="212.30" font-size="8.00" text-anchor="middle"  >0.6</text>
<text x="17.40" y="191.90" font-size="8.00" text-anchor="middle"  >0.8</text>
<text x="17.40" y="171.50" font-size="8.00" text-anchor="middle"  >1</text>
<text x="89.05" y="291.00" font-size="8.80" text-anchor="middle" font-style="italic" letter-spacing="0.5">y (km)</text>
<text transform="translate(9.50 218.80) rotate(-90)" font-size="8.8" font-style="italic" text-anchor="middle" letter-spacing="0.4">x (km)</text>
<text x="75.90" y="164.95" font-size="9.7">(<tspan font-size="9.1" font-style="italic" dx="0.2">d</tspan><tspan dx="0.3">)</tspan></text>
<text transform="translate(88.80 164.95) scale(1.16 1)" font-size="9.2" font-style="italic">T</text>
<text x="95.40" y="161.05" font-size="5.4" font-style="italic">u</text>
<text x="94.70" y="167.05" font-size="5.7" font-style="italic" letter-spacing="0.5">yy</text>
</g>
<g clip-path="url(#cp_e)">
<rect x="210.20" y="168.20" width="124.70" height="102.00" fill="rgb(28,255,225)"/>
<defs><clipPath id="e_out"><path d="M200,160 H345 V280 H288.3 V215.2 H200 Z"/></clipPath></defs>
<g filter="url(#b3)">
<ellipse cx="245.40" cy="214.20" rx="14.40" ry="13.00" fill="rgb(100,255,155)" />
<path d="M290.00,203.00 C289.42,200.67 291.25,197.92 292.50,196.00 C293.75,194.08 295.58,192.58 297.50,191.50 C299.42,190.42 301.75,189.70 304.00,189.50 C306.25,189.30 308.75,189.58 311.00,190.30 C313.25,191.02 315.50,192.27 317.50,193.80 C319.50,195.33 321.45,197.38 323.00,199.50 C324.55,201.62 325.92,204.08 326.80,206.50 C327.68,208.92 328.22,211.50 328.30,214.00 C328.38,216.50 328.02,219.17 327.30,221.50 C326.58,223.83 325.47,226.08 324.00,228.00 C322.53,229.92 320.50,231.73 318.50,233.00 C316.50,234.27 314.17,235.27 312.00,235.60 C309.83,235.93 307.33,235.68 305.50,235.00 C303.67,234.32 302.17,233.08 301.00,231.50 C299.83,229.92 299.08,227.75 298.50,225.50 C297.92,223.25 297.92,220.58 297.50,218.00 C297.08,215.42 297.25,212.50 296.00,210.00 C294.75,207.50 290.58,205.33 290.00,203.00Z" fill="rgb(100,255,155)" />
<ellipse cx="300.60" cy="210.50" rx="4.60" ry="5.60" fill="rgb(140,255,115)" transform="rotate(-15.0 300.60 210.50)" />
<ellipse cx="300.50" cy="210.50" rx="3.30" ry="4.20" fill="rgb(175,255,80)" transform="rotate(-15.0 300.50 210.50)" />
<path d="M260.00,247.00 C259.60,245.17 259.35,243.08 259.60,241.00 C259.85,238.92 260.52,236.67 261.50,234.50 C262.48,232.33 264.00,230.00 265.50,228.00 C267.00,226.00 268.75,224.03 270.50,222.50 C272.25,220.97 274.25,219.65 276.00,218.80 C277.75,217.95 279.33,217.45 281.00,217.40 C282.67,217.35 284.67,217.40 286.00,218.50 C287.33,219.60 288.25,221.25 289.00,224.00 C289.75,226.75 290.12,231.33 290.50,235.00 C290.88,238.67 291.30,243.00 291.30,246.00 C291.30,249.00 291.30,251.08 290.50,253.00 C289.70,254.92 288.25,256.45 286.50,257.50 C284.75,258.55 282.33,259.05 280.00,259.30 C277.67,259.55 274.83,259.50 272.50,259.00 C270.17,258.50 267.75,257.47 266.00,256.30 C264.25,255.13 263.00,253.55 262.00,252.00 C261.00,250.45 260.40,248.83 260.00,247.00Z" fill="rgb(100,255,155)" />
<path d="M273.50,240.00 C273.33,237.67 274.25,234.42 275.00,232.00 C275.75,229.58 276.83,227.17 278.00,225.50 C279.17,223.83 280.67,222.25 282.00,222.00 C283.33,221.75 285.00,222.33 286.00,224.00 C287.00,225.67 287.58,229.00 288.00,232.00 C288.42,235.00 288.75,239.42 288.50,242.00 C288.25,244.58 287.75,246.42 286.50,247.50 C285.25,248.58 282.75,248.75 281.00,248.50 C279.25,248.25 277.25,247.42 276.00,246.00 C274.75,244.58 273.67,242.33 273.50,240.00Z" fill="rgb(175,255,80)" />
<ellipse cx="281.70" cy="239.60" rx="3.30" ry="6.60" fill="rgb(240,252,20)" />
<ellipse cx="282.20" cy="240.60" rx="2.00" ry="4.00" fill="rgb(255,215,0)" />
<ellipse cx="285.50" cy="218.50" rx="6.20" ry="8.60" fill="rgb(15,240,240)" />
<ellipse cx="287.50" cy="217.50" rx="4.20" ry="6.60" fill="rgb(0,185,255)" />
<ellipse cx="289.50" cy="217.50" rx="2.40" ry="5.60" fill="rgb(0,120,255)" />
<ellipse cx="272.00" cy="215.80" rx="9.00" ry="2.20" fill="rgb(15,240,240)" />
<g clip-path="url(#e_out)" fill="none" stroke-linecap="round" stroke-linejoin="round">
<path d="M293.2,212 L293.6,244.6" stroke="rgb(15,240,240)" stroke-width="13.0"/>
<path d="M293.2,212 L293.6,244.6" stroke="rgb(0,185,255)" stroke-width="10.4"/>
<path d="M293.3,212 L293.7,244.6" stroke="rgb(0,120,255)" stroke-width="8.2"/>
<path d="M293.3,212 L293.7,244.4" stroke="rgb(0,50,255)" stroke-width="6.2"/>
<path d="M293.4,212 L293.8,244.0" stroke="rgb(0,0,200)" stroke-width="4.3"/>
<path d="M293.4,213 L293.8,243" stroke="rgb(0,0,140)" stroke-width="2.4"/>
<path d="M266,209.4 L293,209.8" stroke="rgb(15,240,240)" stroke-width="11.5"/>
<path d="M268,209.8 L293,210.2" stroke="rgb(0,185,255)" stroke-width="8.6"/>
<path d="M275,210.2 L293,210.6" stroke="rgb(0,120,255)" stroke-width="5.6"/>
<path d="M281,210.6 L293,210.9" stroke="rgb(0,50,255)" stroke-width="4.2"/>
<path d="M285.5,211 L293,211.2" stroke="rgb(0,0,200)" stroke-width="3.0"/>
<path d="M289.5,211.3 L293.5,211.5" stroke="rgb(0,0,140)" stroke-width="1.8"/>
</g>
<ellipse cx="249.20" cy="213.40" rx="8.00" ry="7.40" fill="rgb(175,255,80)" />
<ellipse cx="249.70" cy="213.30" rx="6.60" ry="6.10" fill="rgb(240,252,20)" />
<ellipse cx="250.00" cy="213.20" rx="5.50" ry="5.10" fill="rgb(255,215,0)" />
<ellipse cx="250.30" cy="213.20" rx="4.60" ry="4.20" fill="rgb(255,160,0)" />
<ellipse cx="250.50" cy="213.10" rx="3.80" ry="3.50" fill="rgb(255,100,0)" />
<ellipse cx="250.60" cy="213.10" rx="3.00" ry="2.80" fill="rgb(255,35,0)" />
<ellipse cx="250.70" cy="213.10" rx="2.20" ry="2.00" fill="rgb(200,0,0)" />
<ellipse cx="250.80" cy="213.10" rx="1.30" ry="1.20" fill="rgb(130,0,0)" />
</g>
<rect x="253.80" y="210.90" width="37.90" height="3.50" stroke="#fff" stroke-width="0.7" fill="none" stroke-opacity="0.9"/><rect x="281.60" y="210.90" width="10.10" height="34.20" stroke="#fff" stroke-width="0.7" fill="none" stroke-opacity="0.9"/>
</g>
<rect x="210.20" y="168.20" width="124.70" height="102.00" fill="none" stroke="#555" stroke-opacity="0.35" stroke-width="0.4"/>
<path d="M210.20,270.20 v-1.2 M210.20,168.20 v1.2 M210.20,270.20 h1.2 M334.90,270.20 h-1.2 M235.14,270.20 v-1.2 M235.14,168.20 v1.2 M210.20,249.80 h1.2 M334.90,249.80 h-1.2 M260.08,270.20 v-1.2 M260.08,168.20 v1.2 M210.20,229.40 h1.2 M334.90,229.40 h-1.2 M285.02,270.20 v-1.2 M285.02,168.20 v1.2 M210.20,209.00 h1.2 M334.90,209.00 h-1.2 M309.96,270.20 v-1.2 M309.96,168.20 v1.2 M210.20,188.60 h1.2 M334.90,188.60 h-1.2 M334.90,270.20 v-1.2 M334.90,168.20 v1.2 M210.20,168.20 h1.2 M334.90,168.20 h-1.2" stroke="#444" stroke-opacity="0.45" stroke-width="0.4" fill="none"/>
<rect x="342.20" y="168.20" width="5.4" height="102.00" fill="url(#jet)"/>
<g fill="#262626">
<text x="346.80" y="164.10" font-size="7.20" text-anchor="middle"  >nT/m</text>
<text x="349.70" y="182.20" font-size="6.90" text-anchor="start"  >60</text>
<text x="349.70" y="197.10" font-size="6.90" text-anchor="start"  >40</text>
<text x="349.70" y="211.90" font-size="6.90" text-anchor="start"  >20</text>
<text x="349.70" y="226.80" font-size="6.90" text-anchor="start"  >0</text>
<text x="349.70" y="241.90" font-size="6.90" text-anchor="start"  >−20</text>
<text x="349.70" y="256.90" font-size="6.90" text-anchor="start"  >−40</text>
<text x="349.70" y="271.80" font-size="6.90" text-anchor="start"  >−60</text>
<text x="208.60" y="281.50" font-size="8.00" text-anchor="middle"  >0</text>
<text x="235.14" y="281.50" font-size="8.00" text-anchor="middle"  >0.2</text>
<text x="260.08" y="281.50" font-size="8.00" text-anchor="middle"  >0.4</text>
<text x="285.02" y="281.50" font-size="8.00" text-anchor="middle"  >0.6</text>
<text x="309.96" y="281.50" font-size="8.00" text-anchor="middle"  >0.8</text>
<text x="332.90" y="281.50" font-size="8.00" text-anchor="middle"  >1</text>
<text x="201.60" y="273.50" font-size="8.00" text-anchor="middle"  >0</text>
<text x="201.60" y="253.10" font-size="8.00" text-anchor="middle"  >0.2</text>
<text x="201.60" y="232.70" font-size="8.00" text-anchor="middle"  >0.4</text>
<text x="201.60" y="212.30" font-size="8.00" text-anchor="middle"  >0.6</text>
<text x="201.60" y="191.90" font-size="8.00" text-anchor="middle"  >0.8</text>
<text x="201.60" y="171.50" font-size="8.00" text-anchor="middle"  >1</text>
<text x="273.25" y="291.00" font-size="8.80" text-anchor="middle" font-style="italic" letter-spacing="0.5">y (km)</text>
<text transform="translate(193.70 218.80) rotate(-90)" font-size="8.8" font-style="italic" text-anchor="middle" letter-spacing="0.4">x (km)</text>
<text x="260.10" y="164.95" font-size="9.7">(<tspan font-size="9.1" font-style="italic" dx="0.2">e</tspan><tspan dx="0.3">)</tspan></text>
<text transform="translate(273.00 164.95) scale(1.16 1)" font-size="9.2" font-style="italic">T</text>
<text x="279.60" y="161.05" font-size="5.4" font-style="italic">u</text>
<text x="278.90" y="167.05" font-size="5.7" font-style="italic" letter-spacing="0.5">yz</text>
</g>
<g clip-path="url(#cp_f)">
<rect x="394.50" y="168.20" width="124.70" height="102.00" fill="rgb(0,80,255)"/>
<defs><linearGradient id="f_hot" x1="0" y1="0" x2="1" y2="0"><stop offset="0" stop-color="rgb(130,0,0)"/><stop offset="0.16" stop-color="rgb(190,0,0)"/><stop offset="0.30" stop-color="rgb(255,30,0)"/><stop offset="0.50" stop-color="rgb(255,120,0)"/><stop offset="0.68" stop-color="rgb(255,200,0)"/><stop offset="0.82" stop-color="rgb(235,255,20)"/><stop offset="0.93" stop-color="rgb(130,255,125)"/><stop offset="1" stop-color="rgb(40,240,215)"/></linearGradient><linearGradient id="f_vert" x1="0" y1="0" x2="0" y2="1"><stop offset="0" stop-color="rgb(20,215,255)"/><stop offset="0.3" stop-color="rgb(0,190,255)"/><stop offset="0.65" stop-color="rgb(10,225,250)"/><stop offset="1" stop-color="rgb(60,250,200)"/></linearGradient></defs>
<g filter="url(#b3)">
<path d="M440.00,205.30 C440.25,204.10 441.83,202.32 443.50,201.30 C445.17,200.28 447.42,199.67 450.00,199.20 C452.58,198.73 455.83,198.58 459.00,198.50 C462.17,198.42 465.92,198.40 469.00,198.70 C472.08,199.00 475.07,199.42 477.50,200.30 C479.93,201.18 481.98,202.38 483.60,204.00 C485.22,205.62 486.40,207.50 487.20,210.00 C488.00,212.50 488.25,215.83 488.40,219.00 C488.55,222.17 488.40,225.92 488.10,229.00 C487.80,232.08 487.32,235.08 486.60,237.50 C485.88,239.92 484.85,242.03 483.80,243.50 C482.75,244.97 481.35,246.30 480.30,246.30 C479.25,246.30 477.97,246.22 477.50,243.50 C477.03,240.78 477.50,234.58 477.50,230.00 C477.50,225.42 478.75,219.25 477.50,216.00 C476.25,212.75 473.75,211.58 470.00,210.50 C466.25,209.42 459.67,209.83 455.00,209.50 C450.33,209.17 444.50,209.20 442.00,208.50 C439.50,207.80 439.75,206.50 440.00,205.30Z" fill="rgb(0,30,255)" />
<path d="M448.00,205.00 C447.50,203.97 450.00,202.50 452.00,201.80 C454.00,201.10 457.17,200.90 460.00,200.80 C462.83,200.70 466.17,200.87 469.00,201.20 C471.83,201.53 474.75,201.92 477.00,202.80 C479.25,203.68 481.07,204.88 482.50,206.50 C483.93,208.12 484.92,210.08 485.60,212.50 C486.28,214.92 486.53,218.08 486.60,221.00 C486.67,223.92 486.43,227.25 486.00,230.00 C485.57,232.75 484.83,235.67 484.00,237.50 C483.17,239.33 481.95,241.08 481.00,241.00 C480.05,240.92 478.77,240.17 478.30,237.00 C477.83,233.83 478.42,226.17 478.20,222.00 C477.98,217.83 478.70,214.25 477.00,212.00 C475.30,209.75 471.67,209.17 468.00,208.50 C464.33,207.83 458.33,208.58 455.00,208.00 C451.67,207.42 448.50,206.03 448.00,205.00Z" fill="rgb(0,0,225)" />
<path d="M456.00,204.80 C456.50,204.18 459.67,203.50 462.00,203.30 C464.33,203.10 467.50,203.28 470.00,203.60 C472.50,203.92 475.12,204.37 477.00,205.20 C478.88,206.03 480.20,207.13 481.30,208.60 C482.40,210.07 483.12,211.93 483.60,214.00 C484.08,216.07 484.23,218.67 484.20,221.00 C484.17,223.33 483.88,226.25 483.40,228.00 C482.92,229.75 481.98,231.83 481.30,231.50 C480.62,231.17 479.68,228.58 479.30,226.00 C478.92,223.42 479.47,218.53 479.00,216.00 C478.53,213.47 478.33,212.17 476.50,210.80 C474.67,209.43 470.92,208.43 468.00,207.80 C465.08,207.17 461.00,207.50 459.00,207.00 C457.00,206.50 455.50,205.42 456.00,204.80Z" fill="rgb(0,0,170)" />
<ellipse cx="455.00" cy="223.00" rx="6.20" ry="2.40" fill="rgb(0,30,255)" transform="rotate(3.0 455.00 223.00)" />
<ellipse cx="455.50" cy="223.00" rx="3.60" ry="1.20" fill="rgb(0,0,225)" transform="rotate(3.0 455.50 223.00)" />
<path d="M464.60,215.00 C465.83,213.67 468.83,214.45 471.00,214.50 C473.17,214.55 476.37,214.22 477.60,215.30 C478.83,216.38 478.18,218.22 478.40,221.00 C478.62,223.78 478.70,228.33 478.90,232.00 C479.10,235.67 479.65,240.17 479.60,243.00 C479.55,245.83 479.53,247.57 478.60,249.00 C477.67,250.43 476.27,251.07 474.00,251.60 C471.73,252.13 467.57,252.47 465.00,252.20 C462.43,251.93 459.93,251.12 458.60,250.00 C457.27,248.88 456.80,247.42 457.00,245.50 C457.20,243.58 458.90,241.00 459.80,238.50 C460.70,236.00 461.77,233.17 462.40,230.50 C463.03,227.83 463.23,225.08 463.60,222.50 C463.97,219.92 463.37,216.33 464.60,215.00Z" fill="rgb(0,140,255)" />
<path d="M465.40,215.50 C466.37,214.00 469.12,215.00 471.00,215.00 C472.88,215.00 475.65,213.00 476.70,215.50 C477.75,218.00 477.13,225.25 477.30,230.00 C477.47,234.75 478.05,240.90 477.70,244.00 C477.35,247.10 476.98,247.73 475.20,248.60 C473.42,249.47 469.27,249.58 467.00,249.20 C464.73,248.82 462.37,247.75 461.60,246.30 C460.83,244.85 461.93,242.80 462.40,240.50 C462.87,238.20 463.93,235.25 464.40,232.50 C464.87,229.75 465.03,226.83 465.20,224.00 C465.37,221.17 464.43,217.00 465.40,215.50Z" fill="rgb(0,195,255)" />
<defs><clipPath id="f_in"><rect x="464.8" y="214.2" width="11.7" height="31.6"/></clipPath></defs>
<g clip-path="url(#f_in)">
<path d="M468.20,214.00 C469.52,212.83 475.95,211.00 477.50,214.00 C479.05,217.00 477.50,226.50 477.50,232.00 C477.50,237.50 478.75,244.58 477.50,247.00 C476.25,249.42 471.82,247.08 470.00,246.50 C468.18,245.92 467.05,245.17 466.60,243.50 C466.15,241.83 466.87,239.00 467.30,236.50 C467.73,234.00 468.82,231.08 469.20,228.50 C469.58,225.92 469.77,223.42 469.60,221.00 C469.43,218.58 466.88,215.17 468.20,214.00Z" fill="rgb(20,245,235)" />
<path d="M471.80,221.00 C472.85,218.75 476.55,214.17 477.50,218.50 C478.45,222.83 478.55,242.33 477.50,247.00 C476.45,251.67 472.52,247.50 471.20,246.50 C469.88,245.50 469.60,243.42 469.60,241.00 C469.60,238.58 470.83,235.33 471.20,232.00 C471.57,228.67 470.75,223.25 471.80,221.00Z" fill="rgb(70,255,185)" />
<path d="M473.30,230.00 C474.15,228.75 476.80,224.17 477.50,227.00 C478.20,229.83 478.35,243.75 477.50,247.00 C476.65,250.25 473.38,247.67 472.40,246.50 C471.42,245.33 471.60,242.00 471.60,240.00 C471.60,238.00 472.12,236.17 472.40,234.50 C472.68,232.83 472.45,231.25 473.30,230.00Z" fill="rgb(120,255,135)" />
<path d="M474.20,235.50 C474.97,234.33 476.95,231.67 477.50,233.50 C478.05,235.33 478.22,244.42 477.50,246.50 C476.78,248.58 473.97,247.00 473.20,246.00 C472.43,245.00 472.73,242.25 472.90,240.50 C473.07,238.75 473.43,236.67 474.20,235.50Z" fill="rgb(190,255,65)" />
<ellipse cx="474.60" cy="241.00" rx="1.90" ry="3.60" fill="rgb(250,245,10)" />
</g>
</g>
<g filter="url(#b4)">
<path d="M435.70,207.00 L475.50,210.10 A3.00,3.00 0 0 1 475.50,216.10 L435.70,219.20 A6.10,6.10 0 0 1 435.70,207.00 Z" fill="rgb(0,140,255)"/>
<path d="M435.90,207.90 L475.40,210.50 A2.60,2.60 0 0 1 475.40,215.70 L435.90,218.30 A5.20,5.20 0 0 1 435.90,207.90 Z" fill="rgb(0,195,255)"/>
<path d="M436.30,208.60 L475.20,210.80 A2.30,2.30 0 0 1 475.20,215.40 L436.30,217.60 A4.50,4.50 0 0 1 436.30,208.60 Z" fill="rgb(20,245,235)"/>
<path d="M436.70,209.30 L475.00,211.10 A2.00,2.00 0 0 1 475.00,215.10 L436.70,216.90 A3.80,3.80 0 0 1 436.70,209.30 Z" fill="rgb(120,255,135)"/>
<path d="M437.10,209.90 L471.90,211.50 A1.60,1.60 0 0 1 471.90,214.70 L437.10,216.30 A3.20,3.20 0 0 1 437.10,209.90 Z" fill="rgb(250,245,10)"/>
<path d="M437.50,210.40 L467.10,211.70 A1.40,1.40 0 0 1 467.10,214.50 L437.50,215.80 A2.70,2.70 0 0 1 437.50,210.40 Z" fill="rgb(255,205,0)"/>
<path d="M437.90,210.80 L461.20,211.80 A1.30,1.30 0 0 1 461.20,214.40 L437.90,215.40 A2.30,2.30 0 0 1 437.90,210.80 Z" fill="rgb(255,150,0)"/>
<path d="M438.25,211.25 L475.20,212.10 A1.00,1.00 0 0 1 475.20,214.10 L438.25,214.95 A1.85,1.85 0 0 1 438.25,211.25 Z" fill="url(#f_hot)"/>
</g>
<rect x="438.10" y="210.90" width="37.90" height="3.50" stroke="#fff" stroke-width="0.7" fill="none" stroke-opacity="0.9"/><rect x="465.90" y="210.90" width="10.10" height="34.20" stroke="#fff" stroke-width="0.7" fill="none" stroke-opacity="0.9"/>
</g>
<rect x="394.50" y="168.20" width="124.70" height="102.00" fill="none" stroke="#555" stroke-opacity="0.35" stroke-width="0.4"/>
<path d="M394.50,270.20 v-1.2 M394.50,168.20 v1.2 M394.50,270.20 h1.2 M519.20,270.20 h-1.2 M419.44,270.20 v-1.2 M419.44,168.20 v1.2 M394.50,249.80 h1.2 M519.20,249.80 h-1.2 M444.38,270.20 v-1.2 M444.38,168.20 v1.2 M394.50,229.40 h1.2 M519.20,229.40 h-1.2 M469.32,270.20 v-1.2 M469.32,168.20 v1.2 M394.50,209.00 h1.2 M519.20,209.00 h-1.2 M494.26,270.20 v-1.2 M494.26,168.20 v1.2 M394.50,188.60 h1.2 M519.20,188.60 h-1.2 M519.20,270.20 v-1.2 M519.20,168.20 v1.2 M394.50,168.20 h1.2 M519.20,168.20 h-1.2" stroke="#444" stroke-opacity="0.45" stroke-width="0.4" fill="none"/>
<rect x="526.50" y="168.20" width="5.4" height="102.00" fill="url(#jet)"/>
<g fill="#262626">
<text x="531.10" y="164.10" font-size="7.20" text-anchor="middle"  >nT/m</text>
<text x="534.00" y="174.80" font-size="6.90" text-anchor="start"  >150</text>
<text x="534.00" y="198.80" font-size="6.90" text-anchor="start"  >100</text>
<text x="534.00" y="222.80" font-size="6.90" text-anchor="start"  >50</text>
<text x="534.00" y="246.80" font-size="6.90" text-anchor="start"  >0</text>
<text x="534.00" y="270.80" font-size="6.90" text-anchor="start"  >−50</text>
<text x="392.90" y="281.50" font-size="8.00" text-anchor="middle"  >0</text>
<text x="419.44" y="281.50" font-size="8.00" text-anchor="middle"  >0.2</text>
<text x="444.38" y="281.50" font-size="8.00" text-anchor="middle"  >0.4</text>
<text x="469.32" y="281.50" font-size="8.00" text-anchor="middle"  >0.6</text>
<text x="494.26" y="281.50" font-size="8.00" text-anchor="middle"  >0.8</text>
<text x="517.20" y="281.50" font-size="8.00" text-anchor="middle"  >1</text>
<text x="385.90" y="273.50" font-size="8.00" text-anchor="middle"  >0</text>
<text x="385.90" y="253.10" font-size="8.00" text-anchor="middle"  >0.2</text>
<text x="385.90" y="232.70" font-size="8.00" text-anchor="middle"  >0.4</text>
<text x="385.90" y="212.30" font-size="8.00" text-anchor="middle"  >0.6</text>
<text x="385.90" y="191.90" font-size="8.00" text-anchor="middle"  >0.8</text>
<text x="385.90" y="171.50" font-size="8.00" text-anchor="middle"  >1</text>
<text x="457.55" y="291.00" font-size="8.80" text-anchor="middle" font-style="italic" letter-spacing="0.5">y (km)</text>
<text transform="translate(378.00 218.80) rotate(-90)" font-size="8.8" font-style="italic" text-anchor="middle" letter-spacing="0.4">x (km)</text>
<text x="444.40" y="164.95" font-size="9.7">(<tspan font-size="9.1" font-style="italic" dx="0.2">f</tspan><tspan dx="0.3">)</tspan></text>
<text transform="translate(457.30 164.95) scale(1.16 1)" font-size="9.2" font-style="italic">T</text>
<text x="463.90" y="161.05" font-size="5.4" font-style="italic">u</text>
<text x="463.20" y="167.05" font-size="5.7" font-style="italic" letter-spacing="0.5">zz</text>
</g>
</svg></body></html>
